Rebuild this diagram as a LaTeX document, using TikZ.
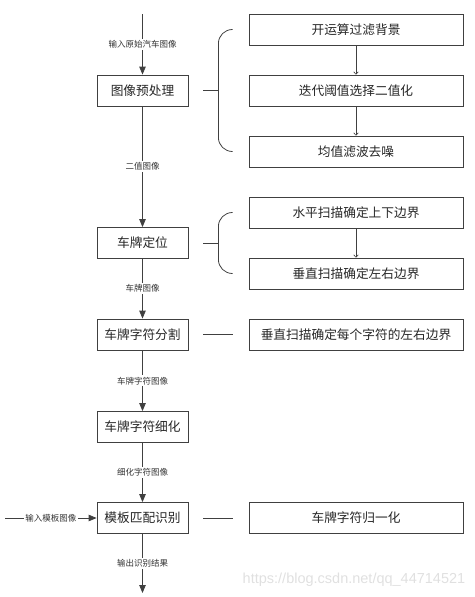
\documentclass[tikz,border=0pt]{standalone}
\usepackage{fontspec}
\setmainfont{Noto Sans CJK SC}
\newfontfamily\urlfont{Liberation Sans}
\usetikzlibrary{arrows.meta}

\begin{document}
\begin{tikzpicture}[x=1pt,y=-1pt,draw=black!75,text=black!85,line width=0.8pt]
  \tikzstyle{stage}=[draw=black!75,rectangle,minimum width=91pt,minimum height=31pt,inner sep=0pt,font=\fontsize{12.7}{14}\selectfont]
  \tikzstyle{detail}=[stage,minimum width=214pt]
  \tikzstyle{flow}=[-{Triangle[length=8pt,width=6.5pt]},black!75]
  \tikzstyle{sub flow}=[-{To[length=3pt,width=5pt]},line width=0.6pt]
  \tikzstyle{annot}=[fill=white,inner sep=1.5pt,text=black!80,font=\fontsize{8.5}{10}\selectfont]

  \useasboundingbox (0,0) rectangle (474,597);

  % Draw the main stages
  \foreach \name / \y / \txt in {1/90.5/图像预处理, 2/243/车牌定位, 3/334.5/车牌字符分割, 4/427/车牌字符细化, 5/518/模板匹配识别}
  \node[stage] (S-\name) at (142.5,\y) {\txt};

  % Draw the detail boxes
  \foreach \name / \y / \txt in {1/29.5/开运算过滤背景, 2/90.5/迭代阈值选择二值化, 3/151.5/均值滤波去噪, 4/212.5/水平扫描确定上下边界, 5/273.5/垂直扫描确定左右边界, 6/334.5/垂直扫描确定每个字符的左右边界, 7/518/车牌字符归一化}
  \node[detail] (D-\name) at (356,\y) {\txt};

  % Free ends of the main flow
  \coordinate (in) at (142.5,14);
  \coordinate (out) at (142.5,593);
  \coordinate (tpl) at (5,518);

  % Connect main stages
  \draw[flow] (in) -- node[annot] {输入原始汽车图像} (S-1);
  \foreach \source / \dest / \lab in {1/2/二值图像, 2/3/车牌图像, 3/4/车牌字符图像, 4/5/细化字符图像}
  \draw[flow] (S-\source) -- node[annot] {\lab} (S-\dest);
  \draw[flow] (S-5) -- node[annot] {输出识别结果} (out);
  \draw[flow] (tpl) -- node[annot] {输入模板图像} (S-5);

  % Connect detail steps
  \foreach \source / \dest in {1/2, 2/3, 4/5}
  \draw[sub flow] (D-\source) -- (D-\dest);

  % Brackets from a stage to its details
  \foreach \stage / \first / \last in {1/1/3, 2/4/5} {
    \coordinate (B-\stage) at ([xshift=30pt]S-\stage.east);
    \draw ([xshift=15pt]S-\stage.east) -- (B-\stage);
    \draw[rounded corners=14pt] ([xshift=-16pt]D-\first.west) -| (B-\stage |- D-\last.west) -- ([xshift=-16pt]D-\last.west);
  }
  \foreach \stage / \dest in {3/6, 5/7}
  \draw ([xshift=15pt]S-\stage.east) -- ([xshift=-16pt]D-\dest.west);

  % Watermark
  \node[text=black!12,font=\urlfont\fontsize{14.5}{16}\selectfont] (wm) at (354,580) {https://blog.csdn.net/qq\_44714521};
\end{tikzpicture}
\end{document}
